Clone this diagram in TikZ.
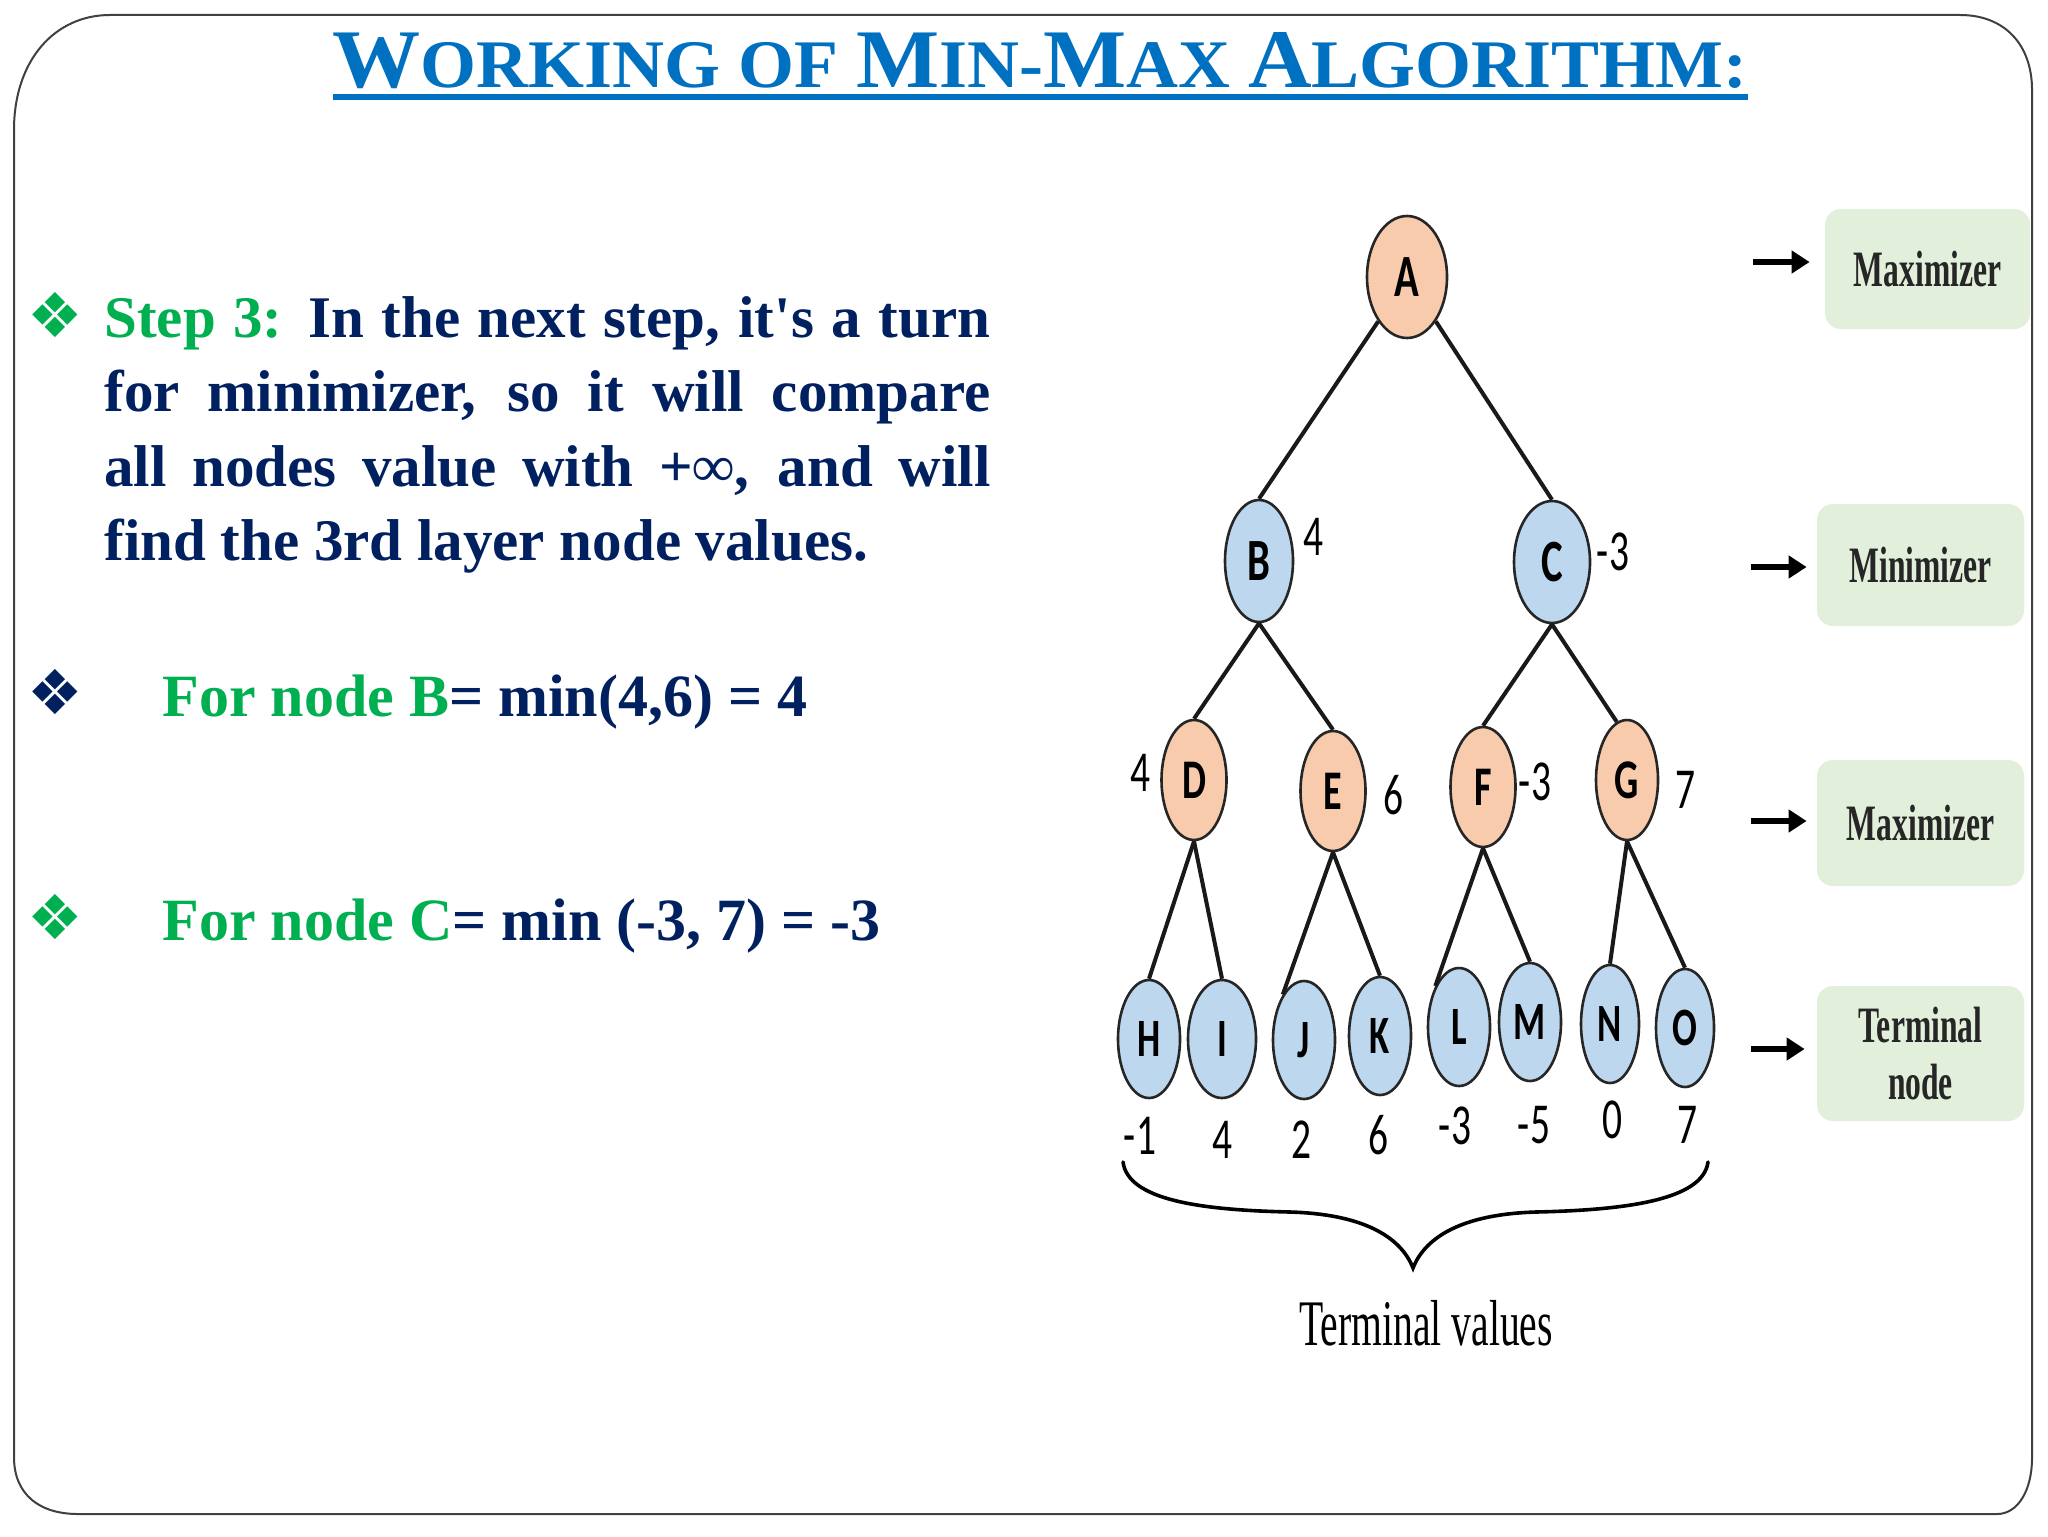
\documentclass[tikz,border=0pt]{standalone}
\usepackage{fontspec}
\usepackage{graphicx}
\setmainfont{Liberation Serif}
\newfontfamily\symfont{DejaVu Sans}
\newfontfamily\treefont{Carlito}
\usetikzlibrary{shapes.geometric,arrows.meta}
\definecolor{navy}{HTML}{002060}
\definecolor{stepgreen}{HTML}{00B050}
\definecolor{titleblue}{HTML}{0070C0}
\definecolor{peach}{HTML}{F8CBAD}
\definecolor{lblue}{HTML}{BDD7EE}
\definecolor{boxgreen}{HTML}{E2EFDA}
\newcommand{\cnd}[1]{\scalebox{0.68}[1]{#1}}
\newcommand{\bxt}[1]{\scalebox{0.62}[1]{#1}}
\newcommand{\tbig}[1]{{\fontsize{30}{30}\selectfont #1}}
\newcommand{\tsm}[1]{{\fontsize{24.5}{24.5}\selectfont #1}}
\tikzset{
  slideframe/.style={draw=black!75, line width=1pt},
  treenode/.style={ellipse, draw=black!85, line width=1.3pt, inner sep=0pt},
  maxnode/.style={treenode, fill=peach},
  minnode/.style={treenode, fill=lblue},
  lvlA/.style={minimum width=40pt, minimum height=61pt, font=\treefont\bfseries\fontsize{30}{30}\selectfont},
  lvlB/.style={minimum width=36pt, minimum height=61pt, font=\treefont\bfseries\fontsize{30}{30}\selectfont},
  lvlD/.style={minimum width=32.5pt, minimum height=60pt, font=\treefont\bfseries\fontsize{28}{28}\selectfont},
  lvlH/.style={minimum width=31pt, minimum height=59pt, font=\treefont\bfseries\fontsize{27}{27}\selectfont},
  treeline/.style={draw=black!90, line width=2pt},
  val/.style={font=\treefont\fontsize{29}{29}\selectfont, inner sep=0pt},
  lvlbox/.style={rounded corners=8pt, fill=boxgreen, draw=none, inner sep=0pt,
     font=\bfseries\fontsize{25.5}{28.5}\selectfont, text=black!85, align=center},
  arr/.style={line width=3pt, -{Triangle[length=9pt,width=11pt]}},
  bulletmark/.style={font=\symfont\fontsize{31}{31}\selectfont, inner sep=0pt},
  bodytext/.style={anchor=base west, inner sep=0pt, text=navy,
     font=\bfseries\fontsize{30}{36}\selectfont},
}
\begin{document}
\begin{tikzpicture}[x=0.5pt,y=-0.5pt]
\useasboundingbox (0,0) rectangle (2048,1536);
\fill[white] (0,0) rectangle (2048,1536);
% slide frame
\draw[slideframe] (14,130) -- (14,1457) .. controls (14,1495) and (40,1514) .. (78,1514)
  -- (1997,1514) .. controls (2018,1514) and (2032,1490) .. (2032,1458)
  -- (2032,90) .. controls (2032,45) and (2005,15) .. (1960,15)
  -- (110,15) .. controls (55,15) and (14,60) .. (14,130) -- cycle;

% title
\node[anchor=base, inner sep=0pt, text=titleblue] (title) at (1040,88)
  {\resizebox{707.5pt}{27.5pt}{\bfseries\tbig{W}\tsm{ORKING OF\ }\tbig{M}\tsm{IN-}\tbig{M}\tsm{AX\ }\tbig{A}\tsm{LGORITHM:}}};
\fill[titleblue] (333,94) rectangle (1748,100);

% bullets and body text
\node[bulletmark, text=stepgreen] (b1) at (55,315) {❖};
\node[bulletmark, text=navy] (b2) at (55,692) {❖};
\node[bulletmark, text=stepgreen] (b3) at (55,917) {❖};

\node[anchor=base west, inner sep=0pt, text=navy] (para) at (104,337)
  {\parbox[t]{443pt}{\fontsize{29.5}{37.25}\selectfont\bfseries
   \textcolor{stepgreen}{Step 3:} In the next step, it\textquotesingle s a turn\linebreak
   for minimizer, so it will compare\linebreak
   all nodes value with +∞, and will\linebreak
   find the 3rd layer node values.}};

\node[bodytext] (forB) at (162,716) {\textcolor{stepgreen}{For node B}= min(4,6) = 4};
\node[bodytext] (forC) at (162,940) {\textcolor{stepgreen}{For node C}= min (-3, 7) = -3};

% tree nodes
\node[maxnode, lvlA] (A) at (1407,277) {\cnd{A}};
\node[minnode, lvlB, minimum width=34pt] (B) at (1259,561) {\cnd{B}};
\node[minnode, lvlB, minimum width=38pt] (C) at (1552,562) {\cnd{C}};
\node[maxnode, lvlD] (D) at (1194,780) {\cnd{D}};
\node[maxnode, lvlD] (E) at (1333,791) {\cnd{E}};
\node[maxnode, lvlD] (F) at (1483,787) {\cnd{F}};
\node[maxnode, lvlD, minimum width=31pt] (G) at (1627,780) {\cnd{G}};
\node[minnode, lvlH] (H) at (1149,1039) {\cnd{H}};
\node[minnode, lvlH, minimum width=34pt] (I) at (1222,1039) {\cnd{I}};
\node[minnode, lvlH] (J) at (1304,1040) {\cnd{J}};
\node[minnode, lvlH] (K) at (1380,1036) {\cnd{K}};
\node[minnode, lvlH] (L) at (1459,1027) {\cnd{L}};
\node[minnode, lvlH] (M) at (1530,1022) {\cnd{M}};
\node[minnode, lvlH, minimum width=29pt] (N) at (1610,1024) {\cnd{N}};
\node[minnode, lvlH, minimum width=29pt] (O) at (1685,1028) {\cnd{O}};

% tree edges
\draw[treeline] (A.237) -- (B.north);
\draw[treeline] (A.303) -- (C.north);
\draw[treeline] (B.south) -- (D.north);
\draw[treeline] (B.south) -- (E.north);
\draw[treeline] (C.south) -- (F.north);
\draw[treeline] (C.south) -- (G.100);
\draw[treeline] (D.south) -- (H.north);
\draw[treeline] (D.south) -- (I.north);
\draw[treeline] (E.south) -- (J.115);
\draw[treeline] (E.south) -- (K.north);
\draw[treeline] (F.south) -- (L.120);
\draw[treeline] (F.south) -- (M.north);
\draw[treeline] (G.south) -- (N.north);
\draw[treeline] (G.south) -- (O.north);

% node values
\node[val] (vB) at (1313,537) {\cnd{4}};
\node[val] (vC) at (1613,552) {\cnd{-3}};
\node[val] (vD) at (1140,773) {\cnd{4}};
\node[val] (vE) at (1393,795) {\cnd{6}};
\node[val] (vF) at (1535,782) {\cnd{-3}};
\node[val] (vG) at (1685,790) {\cnd{7}};
\node[val] (vH) at (1140,1136) {\cnd{-1}};
\node[val] (vI) at (1222,1140) {\cnd{4}};
\node[val] (vJ) at (1301,1140) {\cnd{2}};
\node[val] (vK) at (1378,1135) {\cnd{6}};
\node[val] (vL) at (1455,1126) {\cnd{-3}};
\node[val] (vM) at (1534,1125) {\cnd{-5}};
\node[val] (vN) at (1612,1120) {\cnd{0}};
\node[val] (vO) at (1687,1125) {\cnd{7}};

% brace
\draw[line width=1.8pt, line cap=round]
  (1123,1162) .. controls (1128,1200) and (1200,1210) .. (1290,1212)
  .. controls (1360,1214) and (1400,1235) .. (1413,1268)
  .. controls (1426,1235) and (1466,1214) .. (1536,1212)
  .. controls (1626,1210) and (1703,1200) .. (1708,1162);
\node[anchor=base, inner sep=0pt, font=\fontsize{32.5}{32.5}\selectfont] (tv) at (1426,1345)
  {\scalebox{0.61}[1]{Terminal values}};

% level boxes
\node[lvlbox, minimum width=102.5pt, minimum height=60pt] (m1) at (1927.5,269) {\bxt{Maximizer}};
\node[lvlbox, minimum width=103.5pt, minimum height=61pt] (m2) at (1920.5,565) {\bxt{Minimizer}};
\node[lvlbox, minimum width=103.5pt, minimum height=63pt] (m3) at (1920.5,823) {\bxt{Maximizer}};
\node[lvlbox, minimum width=103.5pt, minimum height=67.5pt] (m4) at (1920.5,1053.5) {\bxt{Terminal}\\\bxt{node}};

\coordinate (a1) at (1753,262);
\coordinate (a2) at (1751,567);
\coordinate (a3) at (1751,821);
\coordinate (a4) at (1751,1049);
\draw[arr, shorten >=7.5pt] (a1) -- (m1.west |- a1);
\draw[arr, shorten >=5pt] (a2) -- (m2.west |- a2);
\draw[arr, shorten >=5pt] (a3) -- (m3.west |- a3);
\draw[arr, shorten >=6pt] (a4) -- (m4.west |- a4);
\end{tikzpicture}
\end{document}
